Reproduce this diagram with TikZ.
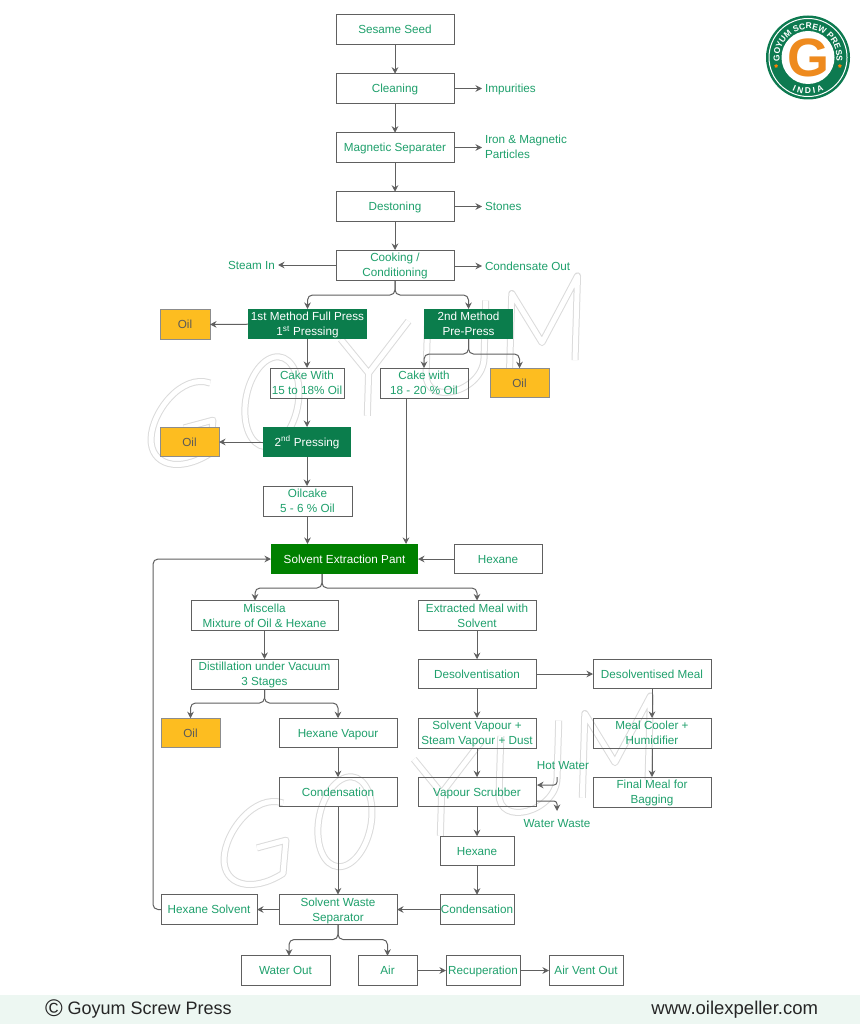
\documentclass[tikz,border=0pt]{standalone}
\usepackage{fontspec}
\setmainfont{Liberation Sans}
\usetikzlibrary{arrows.meta,shapes.geometric,decorations.text}
\definecolor{txtgreen}{HTML}{1FA06C}
\definecolor{boxgreen}{HTML}{0B7D4C}
\definecolor{sxgreen}{HTML}{008000}
\definecolor{oilfill}{HTML}{FDBD20}
\definecolor{linegray}{HTML}{606060}
\definecolor{band}{HTML}{EDF7F2}
\definecolor{logogreen}{HTML}{0D7A50}
\definecolor{logoorange}{HTML}{EE8A1E}
\newcommand{\txtstrut}{\rule[-3.5pt]{0pt}{15pt}}
\newcommand{\tl}[2]{\txtstrut #1\\\txtstrut #2}
\tikzset{
    base/.style={inner sep=0pt,outer sep=0pt,align=center,font=\fontsize{11.7}{15}\selectfont},
    tbase/.style={base,execute at begin node=\txtstrut},
    box/.style={tbase,draw=linegray,line width=1pt,text=txtgreen,minimum width=#1,minimum height=29.5pt},
    box/.default=118pt,
    darkbox/.style={tbase,fill=boxgreen,text=white,minimum width=#1,minimum height=30pt},
    oilbox/.style={tbase,draw=black!45,line width=1pt,fill=oilfill,text=black!65,minimum width=#1,minimum height=29.5pt},
    lbl/.style={tbase,text=txtgreen},
    arr/.style={draw=linegray,line width=1pt,-{Stealth[length=6.5pt,width=6.5pt]}},
    fork/.style={arr,rounded corners=5pt},
    wmline/.style={draw=black!14,double=white,double distance=5pt,line width=1pt,line join=round},
}
\newcommand{\wmark}{
    \draw[wmline] (60,85) .. controls (30,105) and (0,70) .. (0,40) .. controls (0,10) and (30,-8) .. (62,5) -- (64,42) -- (34,42);
    \draw[wmline] (125,45) ellipse (28 and 50);
    \draw[wmline] (195,95) -- (225,48) -- (265,95) (225,48) -- (225,0);
    \draw[wmline] (285,95) -- (285,30) .. controls (285,-8) and (345,-8) .. (345,30) -- (345,95);
    \draw[wmline] (372,0) -- (372,95) -- (405,30) -- (440,95) -- (440,0);
}

\begin{document}
\begin{tikzpicture}[x=1pt,y=-1pt]
    \useasboundingbox (0,0) rectangle (860,1024);
    \fill[white] (0,0) rectangle (860,1024);
    \fill[band] (0,995) rectangle (860,1024);

    \begin{scope}[shift={(150,474)},x=1pt,y=1pt,rotate=15,xslant=0.3,yscale=0.85]
        \wmark
    \end{scope}
    \begin{scope}[shift={(223,894)},x=1pt,y=1pt,rotate=15,xslant=0.3,yscale=0.85]
        \wmark
    \end{scope}

    \node [box](seed) at (395,29.5) {Sesame Seed};
    \node [box](clean) at (395,88.5) {Cleaning};
    \node [box](mag) at (395,147.5) {Magnetic Separater};
    \node [box](dest) at (395,206.5) {Destoning};
    \node [box](cook) at (395,265) {\tl{Cooking /}{Conditioning}};
    \node [darkbox=119pt](first) at (307.5,324) {\tl{1st Method Full Press}{1\textsuperscript{st} Pressing}};
    \node [darkbox=89pt](second) at (468.5,324) {\tl{2nd Method}{Pre-Press}};
    \node [oilbox=50pt](oila) at (185,324.5) {Oil};
    \node [box=74pt](cakea) at (307,383) {\tl{Cake With}{15 to 18\% Oil}};
    \node [box=88pt](cakeb) at (424,383) {\tl{Cake with}{18 - 20 \% Oil}};
    \node [oilbox=59pt](oilb) at (519.5,383) {Oil};
    \node [darkbox=88pt](press) at (307,442) {2\textsuperscript{nd} Pressing};
    \node [oilbox=59pt](oilc) at (189.5,442) {Oil};
    \node [box=89pt](oilcake) at (307.5,501) {\tl{Oilcake}{5 - 6 \% Oil}};
    \node [tbase,fill=sxgreen,text=white,minimum width=147pt,minimum height=30pt](sx) at (344.5,559) {Solvent Extraction Pant};
    \node [box=88pt](hexa) at (498,559) {Hexane};
    \node [box=147pt](misc) at (264.5,615.5) {\tl{Miscella}{Mixture of Oil \& Hexane}};
    \node [box](meal) at (477,615.5) {\tl{Extracted Meal with}{Solvent}};
    \node [box=147pt](dist) at (264.5,674) {\tl{Distillation under Vacuum}{3 Stages}};
    \node [box](desol) at (477,674) {Desolventisation};
    \node [box](desmeal) at (652,674) {Desolventised Meal};
    \node [oilbox=59pt](oild) at (190.5,733) {Oil};
    \node [box](hvap) at (338,733) {Hexane Vapour};
    \node [box](svap) at (477,733) {\tl{Solvent Vapour +}{Steam Vapour + Dust}};
    \node [box](cooler) at (652,733) {\tl{Meal Cooler +}{Humidifier}};
    \node [box](conda) at (338,792) {Condensation};
    \node [box](scrub) at (477,792) {Vapour Scrubber};
    \node [box](final) at (652,792) {\tl{Final Meal for}{Bagging}};
    \node [box=74pt](hexb) at (477,851) {Hexane};
    \node [box=96pt](hsolv) at (209,909.5) {Hexane Solvent};
    \node [box](sep) at (338,909.5) {\tl{Solvent Waste}{Separator}};
    \node [box=74pt](condb) at (477,909.5) {Condensation};
    \node [box=89pt](water) at (285.5,970.5) {Water Out};
    \node [box=59pt](air) at (387.5,970.5) {Air};
    \node [box=74pt](recup) at (483,970.5) {Recuperation};
    \node [box=74pt](vent) at (586,970.5) {Air Vent Out};

    \node [lbl,anchor=west,inner xsep=3pt](imp) at (482,88.5) {Impurities};
    \node [lbl,anchor=west,inner xsep=3pt,align=left](iron) at (482,147.5) {\tl{Iron \& Magnetic}{Particles}};
    \node [lbl,anchor=west,inner xsep=3pt](stones) at (482,206.5) {Stones};
    \node [lbl,anchor=west,inner xsep=3pt](cout) at (482,266) {Condensate Out};
    \node [lbl,anchor=east,inner xsep=3pt](steam) at (278,265) {Steam In};
    \node [lbl](hot) at (563,765) {Hot Water};
    \node [lbl](waste) at (557,823) {Water Waste};
    \coordinate (hotfrom) at (557,777);
    \coordinate (hotto) at (537,785);
    \coordinate (wastefrom) at (536,801);
    \coordinate (wasteto) at (557,811);

    \draw[arr] (seed) -- (clean);
    \draw[arr] (clean) -- (mag);
    \draw[arr] (mag) -- (dest);
    \draw[arr] (dest) -- (cook);
    \draw[arr] (clean) -- (imp);
    \draw[arr] (mag) -- (iron.west |- mag);
    \draw[arr] (dest) -- (stones);
    \draw[arr] (cook.east |- cout) -- (cout);
    \draw[arr] (cook) -- (steam);
    \draw[fork] (cook.south) -- ++(0,15) -| (first.north);
    \draw[fork] (cook.south) -- ++(0,15) -| (second.north);
    \draw[arr] (first) -- (oila);
    \draw[arr] (first.south -| cakea) -- (cakea);
    \draw[fork] (second.south) -- ++(0,15) -| (cakeb.north);
    \draw[fork] (second.south) -- ++(0,15) -| (oilb.north);
    \draw[arr] (cakea) -- (press);
    \draw[arr] (press) -- (oilc);
    \draw[arr] (press) -- (press |- oilcake.north);
    \draw[arr] (oilcake.south) -- (oilcake.south |- sx.north);
    \path ([xshift=-18pt]cakeb.south) coordinate (cakeout);
    \draw[arr] (cakeout) -- (cakeout |- sx.north);
    \draw[arr] (hexa) -- (sx);
    \draw[fork] (hsolv.west) -- ++(-8,0) |- (sx.west);
    \draw[fork] ([xshift=-22.5pt]sx.south) -- ++(0,14) -| ([xshift=-9.5pt]misc.north);
    \draw[fork] ([xshift=-22.5pt]sx.south) -- ++(0,14) -| (meal.north);
    \draw[arr] (misc) -- (dist);
    \draw[fork] (dist.south) -- ++(0,14) -| (oild.north);
    \draw[fork] (dist.south) -- ++(0,14) -| (hvap.north);
    \draw[arr] (hvap) -- (conda);
    \draw[arr] (conda) -- (sep);
    \draw[arr] (meal) -- (desol);
    \draw[arr] (desol) -- (desmeal);
    \draw[arr] (desol) -- (svap);
    \draw[arr] (desmeal) -- (cooler);
    \draw[arr] (cooler) -- (final);
    \draw[arr] (svap) -- (scrub);
    \draw[arr] (scrub) -- (hexb);
    \draw[arr] (hexb) -- (condb);
    \draw[arr,rounded corners=3pt] (hotfrom) |- (hotto);
    \draw[arr,rounded corners=3pt] (wastefrom) -| (wasteto);
    \draw[arr] (condb) -- (sep);
    \draw[arr] (sep) -- (hsolv);
    \draw[fork] (sep.south) -- ++(0,15) -| ([xshift=3.5pt]water.north);
    \draw[fork] (sep.south) -- ++(0,15) -| (air.north);
    \draw[arr] (air) -- (recup);
    \draw[arr] (recup) -- (vent);

    \begin{scope}[shift={(808,57.5)},x=1pt,y=1pt]
        \fill[logogreen] (0,0) circle (42);
        \draw[white,line width=1pt] (0,0) circle (39);
        \fill[white] (0,0) circle (26.5);
        \path[decorate,decoration={text along path,text align=center,
            text={|\fontsize{8.5}{9}\selectfont\bfseries\color{white}|GOYUM SCREW PRESS}}]
            (0,0) ++(185:28.5) arc[start angle=185,end angle=-5,radius=28.5];
        \path[decorate,decoration={text along path,text align=center,
            text={|\fontsize{8.5}{9}\selectfont\bfseries\color{white}|I N D I A}}]
            (0,0) ++(225:36.5) arc[start angle=225,end angle=315,radius=36.5];
        \node[star,fill=orange,inner sep=0pt,minimum size=4pt] (stara) at (195:33) {};
        \node[star,fill=orange,inner sep=0pt,minimum size=4pt] (starb) at (-15:33) {};
        \node[base,text=logoorange,font=\fontsize{54}{54}\selectfont\bfseries] (gbig) at (0,0) {G};
    \end{scope}

    \node [base,anchor=base west,text=black!85,font=\fontsize{18}{20}\selectfont](brand) at (45,1014) {\raisebox{-2pt}{\fontsize{24}{20}\selectfont\textcopyright}\ Goyum Screw Press};
    \node [base,anchor=base east,text=black!85,font=\fontsize{18.5}{20}\selectfont](site) at (818,1014) {www.oilexpeller.com};
\end{tikzpicture}
\end{document}
